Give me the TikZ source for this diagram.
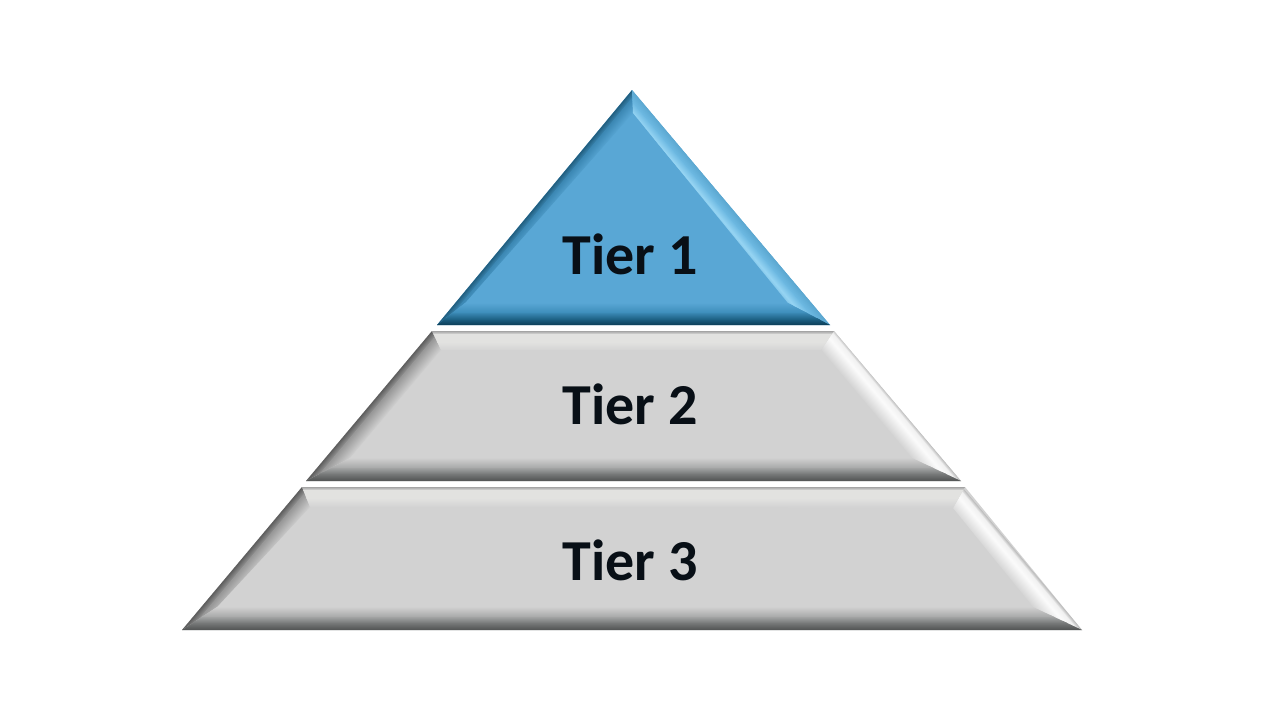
\documentclass[tikz,border=0pt]{standalone}
\usepackage{fontspec}
\setmainfont{Carlito}
\definecolor{gfill}{HTML}{D2D2D2}
\definecolor{bfill}{HTML}{59A7D5}
\definecolor{ink}{HTML}{080F16}
\tikzset{tierlabel/.style={font=\fontsize{29}{32}\selectfont\bfseries,text=ink,inner sep=0pt,anchor=center}}
% one gradient strip, d1..d2 inward from the edge, in an edge-aligned canvas frame
\newcommand\strip[4]{\shade[top color=#3,bottom color=#4,middle color=#3!50!#4] (-1400,-#1) rectangle (1400,-#2-0.4);}
% #1 clip quad, #2 origin on the edge, #3 edge angle, #4 strips
\newcommand\bevel[4]{\begin{scope}\clip #1;\begin{scope}[transform canvas={shift={#2},rotate=#3}]#4\end{scope}\end{scope}}
\definecolor{g0}{HTML}{5E5E5E}\definecolor{g1}{HTML}{989898}
\definecolor{b0}{HTML}{225F80}\definecolor{b1}{HTML}{3C88B4}
\definecolor{bb0}{HTML}{0C3D57}\definecolor{bb1}{HTML}{1E6285}\definecolor{bb2}{HTML}{3F8FBC}
\definecolor{br0}{HTML}{5AA6CF}\definecolor{br1}{HTML}{6DB9E2}\definecolor{br2}{HTML}{97D5F3}
\definecolor{gb0}{HTML}{505252}\definecolor{gb1}{HTML}{7E8080}\definecolor{gb2}{HTML}{ABACAC}
\definecolor{gt0}{HTML}{A4A4A4}\definecolor{gt1}{HTML}{E2E2E0}
\definecolor{gr0}{HTML}{B8B8B8}\definecolor{gr1}{HTML}{F0F0F0}\definecolor{gr2}{HTML}{FBFBFB}
\newcommand\gL{\strip{0}{6}{g0}{g1}\strip{6}{19}{g1}{gfill}}
\newcommand\gB{\strip{0}{8}{gb0}{gb1}\strip{8}{14}{gb1}{gb2}\strip{14}{23}{gb2}{gfill}}
\newcommand\gT{\strip{0}{3}{gt0}{gt1}\strip{3}{11}{gt1}{gt1}\strip{11}{20}{gt1}{gfill}}
\newcommand\gR{\strip{0}{3}{gr0}{gr1}\strip{3}{9}{gr1}{gr2}\strip{9}{23}{gr2}{gfill}}
\begin{document}
\begin{tikzpicture}[x=.5pt,y=.5pt]
\useasboundingbox (0,0) rectangle (1280,720);
\fill[white] (0,0) rectangle (1280,720);
% Tier 1
\fill[bfill] (632,630) -- (437,395) -- (830,395) -- cycle;
\bevel{(632,630)--(437,395)--(465,417)--(633,607)--cycle}{(437,395)}{50.3}{\strip{0}{5}{b0}{b1}\strip{5}{15}{b1}{bfill}}
\bevel{(632,630)--(830,395)--(788,417)--(633,607)--cycle}{(830,395)}{-50}{\strip{0}{8}{br0}{br1}\strip{8}{15}{br1}{br2}\strip{15}{25}{br2}{bfill}}
\bevel{(437,395)--(830,395)--(788,417)--(465,417)--cycle}{(830,395)}{180}{\strip{0}{6}{bb0}{bb1}\strip{6}{13}{bb1}{bb2}\strip{13}{22}{bb2}{bfill}}
% Tier 2
\fill[gfill] (432,389) -- (834,389) -- (961,239) -- (306,239) -- cycle;
\bevel{(432,389)--(306,239)--(350,262)--(441,370)--cycle}{(306,239)}{50}{\gL}
\bevel{(834,389)--(961,239)--(912,262)--(821,370)--cycle}{(961,239)}{-50}{\gR}
\bevel{(432,389)--(834,389)--(821,370)--(441,370)--cycle}{(432,389)}{0}{\gT}
\bevel{(306,239)--(961,239)--(912,262)--(350,262)--cycle}{(961,239)}{180}{\gB}
% Tier 3
\fill[gfill] (302,233) -- (965,233) -- (1082,90) -- (182,90) -- cycle;
\bevel{(302,233)--(182,90)--(217,113)--(310,213)--cycle}{(182,90)}{50}{\gL}
\bevel{(965,233)--(1082,90)--(1033,113)--(953,212)--cycle}{(1082,90)}{-50}{\gR}
\bevel{(302,233)--(965,233)--(953,212)--(310,213)--cycle}{(302,233)}{0}{\gT}
\bevel{(182,90)--(1082,90)--(1033,113)--(217,113)--cycle}{(1082,90)}{180}{\gB}
% Labels
\node[tierlabel] (t1) at (630,466) {Tier 1};
\node[tierlabel] (t2) at (630,316) {Tier 2};
\node[tierlabel] (t3) at (630,160) {Tier 3};
\end{tikzpicture}
\end{document}
